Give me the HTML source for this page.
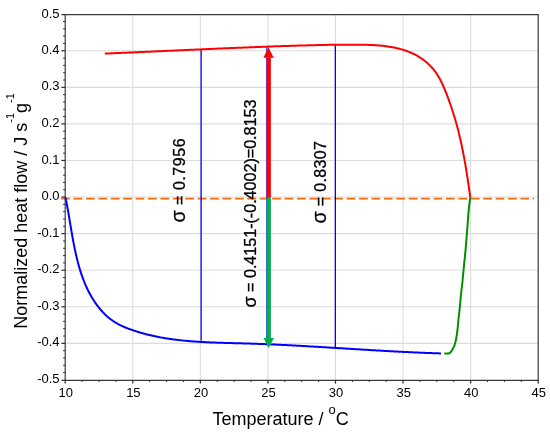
<!DOCTYPE html>
<html><head><meta charset="utf-8"><title>Heat flow chart</title>
<style>html,body{margin:0;padding:0;background:#fff;width:550px;height:432px;overflow:hidden}svg{display:block}</style>
</head><body>
<svg width="550" height="432" viewBox="0 0 550 432">
<line x1="132.77" y1="14.5" x2="132.77" y2="380" stroke="#dcdcdc" stroke-width="1.1"/>
<line x1="200.34" y1="14.5" x2="200.34" y2="380" stroke="#dcdcdc" stroke-width="1.1"/>
<line x1="267.91" y1="14.5" x2="267.91" y2="380" stroke="#dcdcdc" stroke-width="1.1"/>
<line x1="335.49" y1="14.5" x2="335.49" y2="380" stroke="#dcdcdc" stroke-width="1.1"/>
<line x1="403.06" y1="14.5" x2="403.06" y2="380" stroke="#dcdcdc" stroke-width="1.1"/>
<line x1="470.63" y1="14.5" x2="470.63" y2="380" stroke="#dcdcdc" stroke-width="1.1"/>
<line x1="65" y1="50.77" x2="538" y2="50.77" stroke="#dcdcdc" stroke-width="1.1"/>
<line x1="65" y1="87.34" x2="538" y2="87.34" stroke="#dcdcdc" stroke-width="1.1"/>
<line x1="65" y1="123.91" x2="538" y2="123.91" stroke="#dcdcdc" stroke-width="1.1"/>
<line x1="65" y1="160.48" x2="538" y2="160.48" stroke="#dcdcdc" stroke-width="1.1"/>
<line x1="65" y1="197.05" x2="538" y2="197.05" stroke="#dcdcdc" stroke-width="1.1"/>
<line x1="65" y1="233.62" x2="538" y2="233.62" stroke="#dcdcdc" stroke-width="1.1"/>
<line x1="65" y1="270.19" x2="538" y2="270.19" stroke="#dcdcdc" stroke-width="1.1"/>
<line x1="65" y1="306.76" x2="538" y2="306.76" stroke="#dcdcdc" stroke-width="1.1"/>
<line x1="65" y1="343.33" x2="538" y2="343.33" stroke="#dcdcdc" stroke-width="1.1"/>
<line x1="61.1" y1="198.7" x2="534" y2="198.7" stroke="#fb6a0c" stroke-width="1.7" stroke-dasharray="8.8 3.614"/>
<line x1="201.15" y1="49.6" x2="201.15" y2="340.7" stroke="#0000ff" stroke-width="1.3"/>
<line x1="266.80" y1="46.8" x2="266.80" y2="345" stroke="#0000ff" stroke-width="1.0"/>
<line x1="335.35" y1="44.8" x2="335.35" y2="348" stroke="#0000ff" stroke-width="1.3"/>
<path d="M104.79,53.57 L106.36,53.50 L107.93,53.44 L109.51,53.38 L111.08,53.31 L112.65,53.25 L114.22,53.19 L115.79,53.12 L117.37,53.06 L118.94,52.99 L120.51,52.93 L122.08,52.86 L123.65,52.79 L125.23,52.73 L126.80,52.66 L128.37,52.59 L129.94,52.53 L131.51,52.46 L133.08,52.39 L134.66,52.33 L136.23,52.26 L137.80,52.19 L139.37,52.12 L140.94,52.05 L142.51,51.98 L144.08,51.91 L145.65,51.85 L147.23,51.78 L148.80,51.71 L150.37,51.64 L151.94,51.57 L153.51,51.50 L155.08,51.43 L156.65,51.36 L158.22,51.29 L159.80,51.22 L161.37,51.15 L162.94,51.08 L164.51,51.01 L166.08,50.93 L167.65,50.86 L169.22,50.79 L170.79,50.72 L172.36,50.65 L173.94,50.58 L175.51,50.51 L177.08,50.44 L178.65,50.37 L180.22,50.30 L181.79,50.23 L183.36,50.16 L184.93,50.09 L186.50,50.02 L188.07,49.94 L189.64,49.87 L191.22,49.80 L192.79,49.73 L194.36,49.66 L195.93,49.59 L197.50,49.52 L199.07,49.45 L200.64,49.38 L202.21,49.31 L203.78,49.24 L205.35,49.17 L206.92,49.10 L208.50,49.03 L210.07,48.97 L211.64,48.90 L213.21,48.83 L214.78,48.76 L216.35,48.69 L217.92,48.62 L219.49,48.55 L221.06,48.49 L222.64,48.42 L224.21,48.35 L225.78,48.29 L227.35,48.22 L228.92,48.15 L230.49,48.09 L232.06,48.02 L233.63,47.95 L235.20,47.89 L236.78,47.82 L238.35,47.76 L239.92,47.69 L241.49,47.63 L243.06,47.57 L244.63,47.50 L246.20,47.44 L247.78,47.38 L249.35,47.31 L250.92,47.25 L252.49,47.19 L254.06,47.13 L255.63,47.07 L257.21,47.01 L258.78,46.95 L260.35,46.89 L261.92,46.83 L263.49,46.77 L265.06,46.71 L266.64,46.65 L268.21,46.60 L269.78,46.54 L271.35,46.48 L272.92,46.43 L274.50,46.37 L276.07,46.32 L277.64,46.26 L279.21,46.21 L280.79,46.15 L282.36,46.10 L283.93,46.05 L285.50,46.00 L287.08,45.95 L288.65,45.90 L290.22,45.85 L291.79,45.80 L293.37,45.75 L294.94,45.70 L296.51,45.65 L298.09,45.60 L299.66,45.56 L301.23,45.51 L302.81,45.47 L304.38,45.42 L305.95,45.38 L307.53,45.33 L309.10,45.29 L310.67,45.25 L312.25,45.21 L313.82,45.17 L315.39,45.13 L316.97,45.09 L318.54,45.05 L320.11,45.02 L321.69,44.98 L323.26,44.95 L324.83,44.91 L326.41,44.88 L327.98,44.85 L329.55,44.82 L331.13,44.80 L332.70,44.77 L334.27,44.75 L335.85,44.73 L337.42,44.71 L338.99,44.69 L340.56,44.68 L342.13,44.66 L343.70,44.65 L345.28,44.65 L346.85,44.64 L348.42,44.64 L349.99,44.64 L351.56,44.64 L353.13,44.64 L354.70,44.65 L356.26,44.66 L357.83,44.67 L359.40,44.69 L360.97,44.71 L362.53,44.73 L364.10,44.76 L365.67,44.79 L367.23,44.83 L368.80,44.88 L370.37,44.94 L371.93,45.00 L373.50,45.08 L375.06,45.17 L376.63,45.27 L378.20,45.38 L379.76,45.51 L381.33,45.65 L382.90,45.82 L384.47,45.99 L386.04,46.19 L387.61,46.41 L389.17,46.64 L390.74,46.90 L392.30,47.18 L393.85,47.48 L395.40,47.80 L396.95,48.15 L398.49,48.52 L400.02,48.92 L401.54,49.35 L403.05,49.80 L404.56,50.28 L406.05,50.78 L407.53,51.32 L408.99,51.89 L410.44,52.49 L411.88,53.12 L413.30,53.78 L414.71,54.47 L416.09,55.20 L417.46,55.97 L418.81,56.77 L420.14,57.61 L421.45,58.48 L422.74,59.38 L424.00,60.32 L425.23,61.29 L426.44,62.29 L427.63,63.32 L428.78,64.38 L429.90,65.48 L431.00,66.60 L432.06,67.76 L433.08,68.94 L434.08,70.15 L435.03,71.38 L435.95,72.65 L436.84,73.93 L437.68,75.25 L438.49,76.59 L439.27,77.94 L440.01,79.32 L440.73,80.71 L441.43,82.12 L442.11,83.54 L442.76,84.97 L443.41,86.41 L444.03,87.85 L444.65,89.31 L445.26,90.76 L445.85,92.22 L446.44,93.69 L447.01,95.16 L447.58,96.63 L448.13,98.11 L448.68,99.59 L449.21,101.07 L449.74,102.55 L450.26,104.04 L450.78,105.53 L451.28,107.02 L451.78,108.51 L452.27,110.00 L452.75,111.50 L453.22,112.99 L453.69,114.49 L454.15,115.99 L454.61,117.49 L455.05,118.99 L455.49,120.50 L455.92,122.00 L456.35,123.51 L456.77,125.02 L457.17,126.54 L457.58,128.05 L457.97,129.57 L458.36,131.09 L458.74,132.61 L459.12,134.14 L459.49,135.66 L459.85,137.19 L460.20,138.72 L460.55,140.25 L460.90,141.79 L461.23,143.32 L461.57,144.86 L461.89,146.40 L462.21,147.94 L462.53,149.48 L462.84,151.03 L463.14,152.57 L463.44,154.12 L463.74,155.66 L464.03,157.21 L464.31,158.76 L464.59,160.31 L464.87,161.86 L465.14,163.41 L465.41,164.96 L465.67,166.51 L465.93,168.07 L466.19,169.62 L466.44,171.18 L466.69,172.73 L466.94,174.29 L467.18,175.84 L467.42,177.40 L467.65,178.95 L467.89,180.51 L468.12,182.06 L468.34,183.62 L468.57,185.17 L468.79,186.73 L469.01,188.28 L469.23,189.84 L469.45,191.39 L469.66,192.94 L469.88,194.50 L470.09,196.05 L470.30,197.60" fill="none" stroke="#ff0000" stroke-width="2" stroke-linejoin="round"/>
<path d="M65.38,197.18 L65.61,198.25 L65.84,199.33 L66.06,200.41 L66.28,201.49 L66.49,202.59 L66.71,203.68 L66.92,204.78 L67.13,205.89 L67.33,207.00 L67.54,208.11 L67.74,209.23 L67.94,210.35 L68.14,211.48 L68.33,212.61 L68.53,213.74 L68.72,214.88 L68.92,216.02 L69.11,217.16 L69.30,218.31 L69.50,219.46 L69.69,220.61 L69.88,221.77 L70.07,222.92 L70.27,224.08 L70.46,225.24 L70.66,226.41 L70.85,227.57 L71.05,228.74 L71.24,229.91 L71.44,231.08 L71.64,232.25 L71.85,233.42 L72.05,234.60 L72.26,235.77 L72.46,236.95 L72.67,238.12 L72.89,239.30 L73.10,240.47 L73.32,241.65 L73.55,242.83 L73.77,244.00 L74.00,245.18 L74.23,246.36 L74.47,247.53 L74.71,248.71 L74.96,249.88 L75.21,251.05 L75.46,252.23 L75.72,253.40 L75.98,254.56 L76.25,255.73 L76.53,256.90 L76.81,258.06 L77.09,259.22 L77.38,260.38 L77.68,261.54 L77.98,262.70 L78.29,263.85 L78.61,265.00 L78.93,266.15 L79.26,267.29 L79.59,268.43 L79.94,269.57 L80.29,270.71 L80.65,271.84 L81.01,272.97 L81.39,274.09 L81.77,275.21 L82.16,276.33 L82.56,277.44 L82.96,278.55 L83.38,279.65 L83.80,280.75 L84.24,281.84 L84.68,282.93 L85.13,284.01 L85.59,285.09 L86.07,286.16 L86.55,287.23 L87.04,288.29 L87.54,289.35 L88.06,290.40 L88.58,291.44 L89.11,292.48 L89.66,293.51 L90.21,294.53 L90.78,295.55 L91.36,296.56 L91.95,297.57 L92.56,298.56 L93.17,299.56 L93.80,300.54 L94.44,301.51 L95.09,302.48 L95.75,303.44 L96.43,304.39 L97.12,305.33 L97.82,306.26 L98.54,307.18 L99.27,308.09 L100.01,308.99 L100.76,309.87 L101.53,310.75 L102.31,311.61 L103.10,312.45 L103.91,313.29 L104.73,314.10 L105.56,314.91 L106.41,315.69 L107.27,316.46 L108.14,317.22 L109.03,317.96 L109.93,318.68 L110.84,319.38 L111.77,320.06 L112.71,320.72 L113.66,321.37 L114.63,321.99 L115.61,322.59 L116.60,323.18 L117.61,323.75 L118.63,324.30 L119.65,324.83 L120.69,325.35 L121.74,325.85 L122.79,326.33 L123.86,326.81 L124.93,327.27 L126.00,327.71 L127.09,328.15 L128.18,328.57 L129.27,328.98 L130.37,329.38 L131.47,329.77 L132.57,330.16 L133.68,330.53 L134.79,330.90 L135.90,331.26 L137.01,331.61 L138.12,331.96 L139.24,332.30 L140.35,332.63 L141.47,332.95 L142.59,333.26 L143.72,333.57 L144.84,333.88 L145.97,334.17 L147.10,334.46 L148.23,334.74 L149.36,335.01 L150.49,335.28 L151.62,335.54 L152.76,335.80 L153.90,336.05 L155.04,336.29 L156.18,336.53 L157.32,336.76 L158.46,336.99 L159.61,337.20 L160.75,337.42 L161.90,337.63 L163.05,337.83 L164.20,338.03 L165.35,338.22 L166.51,338.40 L167.66,338.58 L168.82,338.76 L169.97,338.93 L171.13,339.10 L172.29,339.26 L173.45,339.41 L174.61,339.57 L175.77,339.71 L176.94,339.85 L178.10,339.99 L179.27,340.13 L180.43,340.26 L181.60,340.38 L182.77,340.50 L183.94,340.62 L185.11,340.73 L186.28,340.84 L187.45,340.95 L188.62,341.05 L189.79,341.15 L190.97,341.25 L192.14,341.34 L193.32,341.43 L194.49,341.51 L195.67,341.60 L196.85,341.68 L198.03,341.75 L199.20,341.83 L200.38,341.90 L201.56,341.97 L202.74,342.03 L203.92,342.10 L205.10,342.16 L206.29,342.22 L207.47,342.27 L208.65,342.33 L209.83,342.38 L211.02,342.43 L212.20,342.48 L213.38,342.53 L214.57,342.57 L215.75,342.62 L216.93,342.66 L218.12,342.70 L219.30,342.74 L220.49,342.78 L221.67,342.82 L222.86,342.85 L224.04,342.89 L225.23,342.92 L226.41,342.96 L227.60,342.99 L228.78,343.02 L229.97,343.05 L231.15,343.09 L232.34,343.12 L233.52,343.15 L234.71,343.18 L235.89,343.21 L237.08,343.24 L238.26,343.27 L239.44,343.30 L240.63,343.33 L241.81,343.37 L242.99,343.40 L244.18,343.43 L245.36,343.46 L246.54,343.50 L247.72,343.53 L248.90,343.57 L250.08,343.61 L251.26,343.64 L252.44,343.68 L253.62,343.72 L254.80,343.76 L255.98,343.80 L257.16,343.84 L258.33,343.89 L259.51,343.93 L260.69,343.97 L261.86,344.02 L263.04,344.06 L264.22,344.11 L265.39,344.16 L266.57,344.21 L267.74,344.25 L268.92,344.30 L270.09,344.35 L271.26,344.40 L272.44,344.46 L273.61,344.51 L274.78,344.56 L275.95,344.61 L277.13,344.67 L278.30,344.72 L279.47,344.78 L280.64,344.83 L281.81,344.89 L282.98,344.95 L284.15,345.00 L285.32,345.06 L286.49,345.12 L287.66,345.18 L288.83,345.24 L290.00,345.30 L291.17,345.36 L292.34,345.42 L293.51,345.48 L294.68,345.54 L295.84,345.61 L297.01,345.67 L298.18,345.73 L299.35,345.80 L300.51,345.86 L301.68,345.93 L302.85,345.99 L304.02,346.06 L305.18,346.12 L306.35,346.19 L307.52,346.25 L308.68,346.32 L309.85,346.39 L311.01,346.46 L312.18,346.52 L313.35,346.59 L314.51,346.66 L315.68,346.73 L316.84,346.80 L318.01,346.87 L319.17,346.94 L320.34,347.00 L321.50,347.07 L322.67,347.14 L323.83,347.22 L325.00,347.29 L326.16,347.36 L327.33,347.43 L328.49,347.50 L329.66,347.57 L330.82,347.64 L331.99,347.71 L333.15,347.78 L334.32,347.85 L335.48,347.93 L336.65,348.00 L337.81,348.07 L338.98,348.14 L340.14,348.21 L341.31,348.29 L342.47,348.36 L343.64,348.43 L344.80,348.50 L345.97,348.57 L347.13,348.65 L348.30,348.72 L349.46,348.79 L350.63,348.86 L351.79,348.93 L352.96,349.00 L354.13,349.08 L355.29,349.15 L356.46,349.22 L357.62,349.29 L358.79,349.36 L359.96,349.43 L361.12,349.50 L362.29,349.58 L363.46,349.65 L364.62,349.72 L365.79,349.79 L366.96,349.86 L368.12,349.93 L369.29,350.00 L370.46,350.07 L371.63,350.14 L372.79,350.20 L373.96,350.27 L375.13,350.34 L376.30,350.41 L377.47,350.48 L378.64,350.54 L379.81,350.61 L380.98,350.68 L382.15,350.75 L383.32,350.81 L384.49,350.88 L385.66,350.94 L386.83,351.01 L388.00,351.07 L389.17,351.14 L390.34,351.20 L391.51,351.27 L392.69,351.33 L393.86,351.39 L395.03,351.45 L396.20,351.51 L397.38,351.58 L398.55,351.64 L399.73,351.70 L400.90,351.76 L402.07,351.82 L403.25,351.88 L404.43,351.93 L405.60,351.99 L406.78,352.05 L407.95,352.10 L409.13,352.16 L410.31,352.22 L411.49,352.27 L412.66,352.32 L413.84,352.38 L415.02,352.43 L416.20,352.48 L417.38,352.53 L418.56,352.59 L419.74,352.64 L420.92,352.69 L422.10,352.73 L423.29,352.78 L424.47,352.83 L425.65,352.88 L426.83,352.92 L428.02,352.97 L429.20,353.01 L430.39,353.06 L431.57,353.10 L432.76,353.14 L433.94,353.18 L435.13,353.22 L436.32,353.26 L437.51,353.30 L438.69,353.34 L439.88,353.38 L441.07,353.41" fill="none" stroke="#0000ff" stroke-width="2" stroke-linejoin="round"/>
<path d="M444.30,353.60 L448.60,353.60 L450.50,352.30 L452.10,350.10 L454.30,346.00 L455.70,341.10 L456.70,335.60 L457.50,330.00 L458.40,320.00 L459.90,306.50 L460.90,295.00 L462.40,282.50 L463.50,270.60 L464.40,261.70 L465.70,248.70 L466.90,233.50 L467.60,224.60 L468.10,217.20 L469.10,206.10 L470.20,197.60" fill="none" stroke="#009000" stroke-width="2" stroke-linejoin="round"/>
<rect x="266.65" y="57.5" width="4.2" height="140.30" fill="#ff0000"/>
<polygon points="268.35,47.3 263.45,57.8 273.75,57.8" fill="#ff0000"/>
<rect x="266.65" y="197.8" width="4.2" height="140.40" fill="#00b04a"/>
<polygon points="268.65,348.0 263.55,337.9 273.95,337.9" fill="#00b04a"/>
<line x1="64.60" y1="14.60" x2="538.80" y2="14.60" stroke="#3a3a3a" stroke-width="1.20"/>
<line x1="64.60" y1="380.30" x2="538.80" y2="380.30" stroke="#3a3a3a" stroke-width="1.20"/>
<line x1="65.20" y1="14.60" x2="65.20" y2="380.30" stroke="#3a3a3a" stroke-width="1.20"/>
<line x1="538.20" y1="14.60" x2="538.20" y2="380.30" stroke="#3a3a3a" stroke-width="1.20"/>
<line x1="61.4" y1="14.60" x2="65.20" y2="14.60" stroke="#2a2a2a" stroke-width="1.2"/>
<line x1="61.4" y1="50.77" x2="65.20" y2="50.77" stroke="#2a2a2a" stroke-width="1.2"/>
<line x1="61.4" y1="87.34" x2="65.20" y2="87.34" stroke="#2a2a2a" stroke-width="1.2"/>
<line x1="61.4" y1="123.91" x2="65.20" y2="123.91" stroke="#2a2a2a" stroke-width="1.2"/>
<line x1="61.4" y1="160.48" x2="65.20" y2="160.48" stroke="#2a2a2a" stroke-width="1.2"/>
<line x1="61.4" y1="197.05" x2="65.20" y2="197.05" stroke="#2a2a2a" stroke-width="1.2"/>
<line x1="61.4" y1="233.62" x2="65.20" y2="233.62" stroke="#2a2a2a" stroke-width="1.2"/>
<line x1="61.4" y1="270.19" x2="65.20" y2="270.19" stroke="#2a2a2a" stroke-width="1.2"/>
<line x1="61.4" y1="306.76" x2="65.20" y2="306.76" stroke="#2a2a2a" stroke-width="1.2"/>
<line x1="61.4" y1="343.33" x2="65.20" y2="343.33" stroke="#2a2a2a" stroke-width="1.2"/>
<line x1="61.4" y1="380.30" x2="65.20" y2="380.30" stroke="#2a2a2a" stroke-width="1.2"/>
<line x1="63.1" y1="21.51" x2="65.20" y2="21.51" stroke="#2a2a2a" stroke-width="1.0"/>
<line x1="63.1" y1="28.83" x2="65.20" y2="28.83" stroke="#2a2a2a" stroke-width="1.0"/>
<line x1="63.1" y1="36.14" x2="65.20" y2="36.14" stroke="#2a2a2a" stroke-width="1.0"/>
<line x1="63.1" y1="43.46" x2="65.20" y2="43.46" stroke="#2a2a2a" stroke-width="1.0"/>
<line x1="63.1" y1="58.08" x2="65.20" y2="58.08" stroke="#2a2a2a" stroke-width="1.0"/>
<line x1="63.1" y1="65.40" x2="65.20" y2="65.40" stroke="#2a2a2a" stroke-width="1.0"/>
<line x1="63.1" y1="72.71" x2="65.20" y2="72.71" stroke="#2a2a2a" stroke-width="1.0"/>
<line x1="63.1" y1="80.03" x2="65.20" y2="80.03" stroke="#2a2a2a" stroke-width="1.0"/>
<line x1="63.1" y1="94.65" x2="65.20" y2="94.65" stroke="#2a2a2a" stroke-width="1.0"/>
<line x1="63.1" y1="101.97" x2="65.20" y2="101.97" stroke="#2a2a2a" stroke-width="1.0"/>
<line x1="63.1" y1="109.28" x2="65.20" y2="109.28" stroke="#2a2a2a" stroke-width="1.0"/>
<line x1="63.1" y1="116.60" x2="65.20" y2="116.60" stroke="#2a2a2a" stroke-width="1.0"/>
<line x1="63.1" y1="131.22" x2="65.20" y2="131.22" stroke="#2a2a2a" stroke-width="1.0"/>
<line x1="63.1" y1="138.54" x2="65.20" y2="138.54" stroke="#2a2a2a" stroke-width="1.0"/>
<line x1="63.1" y1="145.85" x2="65.20" y2="145.85" stroke="#2a2a2a" stroke-width="1.0"/>
<line x1="63.1" y1="153.17" x2="65.20" y2="153.17" stroke="#2a2a2a" stroke-width="1.0"/>
<line x1="63.1" y1="167.79" x2="65.20" y2="167.79" stroke="#2a2a2a" stroke-width="1.0"/>
<line x1="63.1" y1="175.11" x2="65.20" y2="175.11" stroke="#2a2a2a" stroke-width="1.0"/>
<line x1="63.1" y1="182.42" x2="65.20" y2="182.42" stroke="#2a2a2a" stroke-width="1.0"/>
<line x1="63.1" y1="189.74" x2="65.20" y2="189.74" stroke="#2a2a2a" stroke-width="1.0"/>
<line x1="63.1" y1="204.36" x2="65.20" y2="204.36" stroke="#2a2a2a" stroke-width="1.0"/>
<line x1="63.1" y1="211.68" x2="65.20" y2="211.68" stroke="#2a2a2a" stroke-width="1.0"/>
<line x1="63.1" y1="218.99" x2="65.20" y2="218.99" stroke="#2a2a2a" stroke-width="1.0"/>
<line x1="63.1" y1="226.31" x2="65.20" y2="226.31" stroke="#2a2a2a" stroke-width="1.0"/>
<line x1="63.1" y1="240.93" x2="65.20" y2="240.93" stroke="#2a2a2a" stroke-width="1.0"/>
<line x1="63.1" y1="248.25" x2="65.20" y2="248.25" stroke="#2a2a2a" stroke-width="1.0"/>
<line x1="63.1" y1="255.56" x2="65.20" y2="255.56" stroke="#2a2a2a" stroke-width="1.0"/>
<line x1="63.1" y1="262.88" x2="65.20" y2="262.88" stroke="#2a2a2a" stroke-width="1.0"/>
<line x1="63.1" y1="277.50" x2="65.20" y2="277.50" stroke="#2a2a2a" stroke-width="1.0"/>
<line x1="63.1" y1="284.82" x2="65.20" y2="284.82" stroke="#2a2a2a" stroke-width="1.0"/>
<line x1="63.1" y1="292.13" x2="65.20" y2="292.13" stroke="#2a2a2a" stroke-width="1.0"/>
<line x1="63.1" y1="299.45" x2="65.20" y2="299.45" stroke="#2a2a2a" stroke-width="1.0"/>
<line x1="63.1" y1="314.07" x2="65.20" y2="314.07" stroke="#2a2a2a" stroke-width="1.0"/>
<line x1="63.1" y1="321.39" x2="65.20" y2="321.39" stroke="#2a2a2a" stroke-width="1.0"/>
<line x1="63.1" y1="328.70" x2="65.20" y2="328.70" stroke="#2a2a2a" stroke-width="1.0"/>
<line x1="63.1" y1="336.02" x2="65.20" y2="336.02" stroke="#2a2a2a" stroke-width="1.0"/>
<line x1="63.1" y1="350.64" x2="65.20" y2="350.64" stroke="#2a2a2a" stroke-width="1.0"/>
<line x1="63.1" y1="357.96" x2="65.20" y2="357.96" stroke="#2a2a2a" stroke-width="1.0"/>
<line x1="63.1" y1="365.27" x2="65.20" y2="365.27" stroke="#2a2a2a" stroke-width="1.0"/>
<line x1="63.1" y1="372.59" x2="65.20" y2="372.59" stroke="#2a2a2a" stroke-width="1.0"/>
<line x1="65.20" y1="380.30" x2="65.20" y2="383.6" stroke="#2a2a2a" stroke-width="1.2"/>
<line x1="132.77" y1="380.30" x2="132.77" y2="383.6" stroke="#2a2a2a" stroke-width="1.2"/>
<line x1="200.34" y1="380.30" x2="200.34" y2="383.6" stroke="#2a2a2a" stroke-width="1.2"/>
<line x1="267.91" y1="380.30" x2="267.91" y2="383.6" stroke="#2a2a2a" stroke-width="1.2"/>
<line x1="335.49" y1="380.30" x2="335.49" y2="383.6" stroke="#2a2a2a" stroke-width="1.2"/>
<line x1="403.06" y1="380.30" x2="403.06" y2="383.6" stroke="#2a2a2a" stroke-width="1.2"/>
<line x1="470.63" y1="380.30" x2="470.63" y2="383.6" stroke="#2a2a2a" stroke-width="1.2"/>
<line x1="538.20" y1="380.30" x2="538.20" y2="383.6" stroke="#2a2a2a" stroke-width="1.2"/>
<line x1="82.09" y1="380.30" x2="82.09" y2="382.0" stroke="#2a2a2a" stroke-width="1.0"/>
<line x1="98.99" y1="380.30" x2="98.99" y2="382.0" stroke="#2a2a2a" stroke-width="1.0"/>
<line x1="115.88" y1="380.30" x2="115.88" y2="382.0" stroke="#2a2a2a" stroke-width="1.0"/>
<line x1="149.66" y1="380.30" x2="149.66" y2="382.0" stroke="#2a2a2a" stroke-width="1.0"/>
<line x1="166.56" y1="380.30" x2="166.56" y2="382.0" stroke="#2a2a2a" stroke-width="1.0"/>
<line x1="183.45" y1="380.30" x2="183.45" y2="382.0" stroke="#2a2a2a" stroke-width="1.0"/>
<line x1="217.24" y1="380.30" x2="217.24" y2="382.0" stroke="#2a2a2a" stroke-width="1.0"/>
<line x1="234.13" y1="380.30" x2="234.13" y2="382.0" stroke="#2a2a2a" stroke-width="1.0"/>
<line x1="251.02" y1="380.30" x2="251.02" y2="382.0" stroke="#2a2a2a" stroke-width="1.0"/>
<line x1="284.81" y1="380.30" x2="284.81" y2="382.0" stroke="#2a2a2a" stroke-width="1.0"/>
<line x1="301.70" y1="380.30" x2="301.70" y2="382.0" stroke="#2a2a2a" stroke-width="1.0"/>
<line x1="318.59" y1="380.30" x2="318.59" y2="382.0" stroke="#2a2a2a" stroke-width="1.0"/>
<line x1="352.38" y1="380.30" x2="352.38" y2="382.0" stroke="#2a2a2a" stroke-width="1.0"/>
<line x1="369.27" y1="380.30" x2="369.27" y2="382.0" stroke="#2a2a2a" stroke-width="1.0"/>
<line x1="386.16" y1="380.30" x2="386.16" y2="382.0" stroke="#2a2a2a" stroke-width="1.0"/>
<line x1="419.95" y1="380.30" x2="419.95" y2="382.0" stroke="#2a2a2a" stroke-width="1.0"/>
<line x1="436.84" y1="380.30" x2="436.84" y2="382.0" stroke="#2a2a2a" stroke-width="1.0"/>
<line x1="453.74" y1="380.30" x2="453.74" y2="382.0" stroke="#2a2a2a" stroke-width="1.0"/>
<line x1="487.52" y1="380.30" x2="487.52" y2="382.0" stroke="#2a2a2a" stroke-width="1.0"/>
<line x1="504.41" y1="380.30" x2="504.41" y2="382.0" stroke="#2a2a2a" stroke-width="1.0"/>
<line x1="521.31" y1="380.30" x2="521.31" y2="382.0" stroke="#2a2a2a" stroke-width="1.0"/>
<text x="59.6" y="17.75" text-anchor="end" font-family="'Liberation Sans', Arial, sans-serif" font-size="13" fill="#000">0.5</text>
<text x="59.6" y="53.92" text-anchor="end" font-family="'Liberation Sans', Arial, sans-serif" font-size="13" fill="#000">0.4</text>
<text x="59.6" y="90.49" text-anchor="end" font-family="'Liberation Sans', Arial, sans-serif" font-size="13" fill="#000">0.3</text>
<text x="59.6" y="127.06" text-anchor="end" font-family="'Liberation Sans', Arial, sans-serif" font-size="13" fill="#000">0.2</text>
<text x="59.6" y="163.63" text-anchor="end" font-family="'Liberation Sans', Arial, sans-serif" font-size="13" fill="#000">0.1</text>
<text x="59.6" y="200.20" text-anchor="end" font-family="'Liberation Sans', Arial, sans-serif" font-size="13" fill="#000">0.0</text>
<text x="59.6" y="236.77" text-anchor="end" font-family="'Liberation Sans', Arial, sans-serif" font-size="13" fill="#000">-0.1</text>
<text x="59.6" y="273.34" text-anchor="end" font-family="'Liberation Sans', Arial, sans-serif" font-size="13" fill="#000">-0.2</text>
<text x="59.6" y="309.91" text-anchor="end" font-family="'Liberation Sans', Arial, sans-serif" font-size="13" fill="#000">-0.3</text>
<text x="59.6" y="346.48" text-anchor="end" font-family="'Liberation Sans', Arial, sans-serif" font-size="13" fill="#000">-0.4</text>
<text x="59.6" y="383.45" text-anchor="end" font-family="'Liberation Sans', Arial, sans-serif" font-size="13" fill="#000">-0.5</text>
<text x="65.80" y="397.0" text-anchor="middle" font-family="'Liberation Sans', Arial, sans-serif" font-size="13" fill="#000">10</text>
<text x="133.37" y="397.0" text-anchor="middle" font-family="'Liberation Sans', Arial, sans-serif" font-size="13" fill="#000">15</text>
<text x="200.94" y="397.0" text-anchor="middle" font-family="'Liberation Sans', Arial, sans-serif" font-size="13" fill="#000">20</text>
<text x="268.51" y="397.0" text-anchor="middle" font-family="'Liberation Sans', Arial, sans-serif" font-size="13" fill="#000">25</text>
<text x="336.09" y="397.0" text-anchor="middle" font-family="'Liberation Sans', Arial, sans-serif" font-size="13" fill="#000">30</text>
<text x="403.66" y="397.0" text-anchor="middle" font-family="'Liberation Sans', Arial, sans-serif" font-size="13" fill="#000">35</text>
<text x="471.23" y="397.0" text-anchor="middle" font-family="'Liberation Sans', Arial, sans-serif" font-size="13" fill="#000">40</text>
<text x="538.80" y="397.0" text-anchor="middle" font-family="'Liberation Sans', Arial, sans-serif" font-size="13" fill="#000">45</text>
<text x="212.5" y="424.7" font-family="'Liberation Sans', Arial, sans-serif" font-size="18" fill="#000">Temperature / <tspan dy="-10.4" font-size="13">o</tspan><tspan dy="10.4">C</tspan></text>
<text transform="translate(27,328.8) rotate(-90)" font-family="'Liberation Sans', Arial, sans-serif" font-size="18" fill="#000">Normalized heat flow / J s<tspan dy="-13" font-size="11">-1</tspan><tspan dy="13">g</tspan><tspan dy="-13" font-size="11">-1</tspan></text>
<text transform="translate(185.40,222.60) rotate(-90)" font-family="'Liberation Sans', Arial, sans-serif" font-size="16.00" letter-spacing="0.55" fill="#000" stroke="#000" stroke-width="0.3"><tspan font-size="19.50">σ</tspan> = 0.7956</text>
<text transform="translate(255.60,307.40) rotate(-90)" font-family="'Liberation Sans', Arial, sans-serif" font-size="16.20" letter-spacing="-0.05" fill="#000" stroke="#000" stroke-width="0.3"><tspan font-size="18.00">σ</tspan> = 0.4151-(-0.4002)=0.8153</text>
<text transform="translate(325.60,223.50) rotate(-90)" font-family="'Liberation Sans', Arial, sans-serif" font-size="16.00" letter-spacing="0.35" fill="#000" stroke="#000" stroke-width="0.3"><tspan font-size="19.50">σ</tspan> = 0.8307</text>
</svg>
</body></html>
